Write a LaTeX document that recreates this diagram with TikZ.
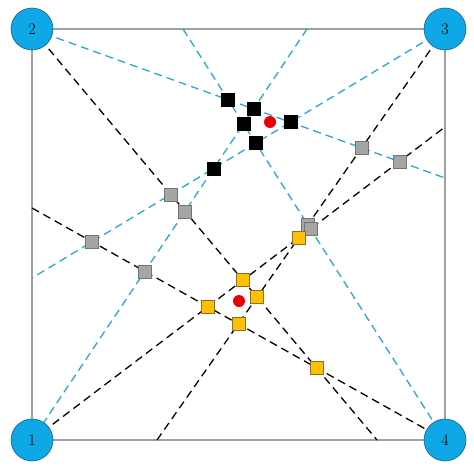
\documentclass[tikz,border=0pt]{standalone}
\definecolor{anchorfill}{RGB}{14,168,230}
\definecolor{anchordraw}{RGB}{30,95,140}
\definecolor{beam}{RGB}{38,170,212}
\definecolor{framegray}{RGB}{160,160,160}
\definecolor{sqgray}{RGB}{165,165,165}
\definecolor{sqgraydraw}{RGB}{115,115,115}
\definecolor{sqyellow}{RGB}{255,192,0}
\definecolor{sqyellowdraw}{RGB}{140,110,40}
\definecolor{dotred}{RGB}{235,0,0}
\begin{document}
\begin{tikzpicture}[x=1pt,y=-1pt,
  framebox/.style={draw=framegray,line width=1.1pt},
  cyanline/.style={draw=beam,line width=1.3pt,dash pattern=on 8pt off 5pt},
  blackline/.style={draw=black,line width=1.3pt,dash pattern=on 8pt off 5pt},
  sqbase/.style={rectangle,minimum size=13pt,inner sep=0pt,line width=0.6pt},
  blacksq/.style={sqbase,fill=black,draw=black},
  graysq/.style={sqbase,fill=sqgray,draw=sqgraydraw},
  yellowsq/.style={sqbase,fill=sqyellow,draw=sqyellowdraw},
  reddot/.style={circle,minimum size=12pt,inner sep=0pt,fill=dotred,draw=none},
  anchornode/.style={circle,minimum size=42pt,inner sep=0pt,fill=anchorfill,draw=anchordraw,line width=0.6pt,font=\fontsize{16}{16}\selectfont}
]
\useasboundingbox (0,0) rectangle (474,471);
% anchor centres and border points
\coordinate (c1) at (32,440);
\coordinate (c2) at (32,29);
\coordinate (c3) at (445,29);
\coordinate (c4) at (445,440);
\coordinate (t1) at (183,29);
\coordinate (t2) at (307,29);
\coordinate (r1) at (445,178);
\coordinate (r2) at (445,127);
\coordinate (l1) at (32,278);
\coordinate (l2) at (32,208);
\coordinate (b1) at (377,440);
\coordinate (b2) at (157,440);
% frame
\draw[framebox] (c1) rectangle (c3);
% cyan lines
\draw[cyanline] (c2) -- (r1);
\draw[cyanline] (t1) -- (c4);
\draw[cyanline] (t2) -- (c1);
\draw[cyanline] (c3) -- (l1);
% black lines
\draw[blackline] (c2) -- (b1);
\draw[blackline] (c3) -- (b2);
\draw[blackline] (c1) -- (r2);
\draw[blackline] (l2) -- (c4);
% black squares: cyan x cyan
\node[blacksq] (k12) at (intersection of c2--r1 and t1--c4) {};
\node[blacksq] (k13) at (intersection of c2--r1 and t2--c1) {};
\node[blacksq] (k14) at (intersection of c2--r1 and c3--l1) {};
\node[blacksq] (k23) at (intersection of t1--c4 and t2--c1) {};
\node[blacksq] (k24) at (intersection of t1--c4 and c3--l1) {};
\node[blacksq] (k34) at (intersection of t2--c1 and c3--l1) {};
% gray squares: cyan x black
\node[graysq] (g1) at (intersection of c2--b1 and c3--l1) {};
\node[graysq] (g2) at (intersection of c2--b1 and t2--c1) {};
\node[graysq] (g3) at (intersection of l2--c4 and c3--l1) {};
\node[graysq] (g4) at (intersection of l2--c4 and t2--c1) {};
\node[graysq] (g5) at (intersection of c3--b2 and c2--r1) {};
\node[graysq] (g6) at (intersection of c1--r2 and c2--r1) {};
\node[graysq] (g7) at (intersection of c3--b2 and t1--c4) {};
\node[graysq] (g8) at (intersection of c1--r2 and t1--c4) {};
% yellow squares: black x black
\node[yellowsq] (y12) at (intersection of c2--b1 and c3--b2) {};
\node[yellowsq] (y13) at (intersection of c2--b1 and c1--r2) {};
\node[yellowsq] (y14) at (intersection of c2--b1 and l2--c4) {};
\node[yellowsq] (y23) at (intersection of c3--b2 and c1--r2) {};
\node[yellowsq] (y24) at (intersection of c3--b2 and l2--c4) {};
\node[yellowsq] (y34) at (intersection of c1--r2 and l2--c4) {};
% estimates
\node[reddot] (e1) at (270,122) {};
\node[reddot] (e2) at (239,301) {};
% anchors
\node[anchornode] (n1) at (c1) {1};
\node[anchornode] (n2) at (c2) {2};
\node[anchornode] (n3) at (c3) {3};
\node[anchornode] (n4) at (c4) {4};
\end{tikzpicture}
\end{document}
